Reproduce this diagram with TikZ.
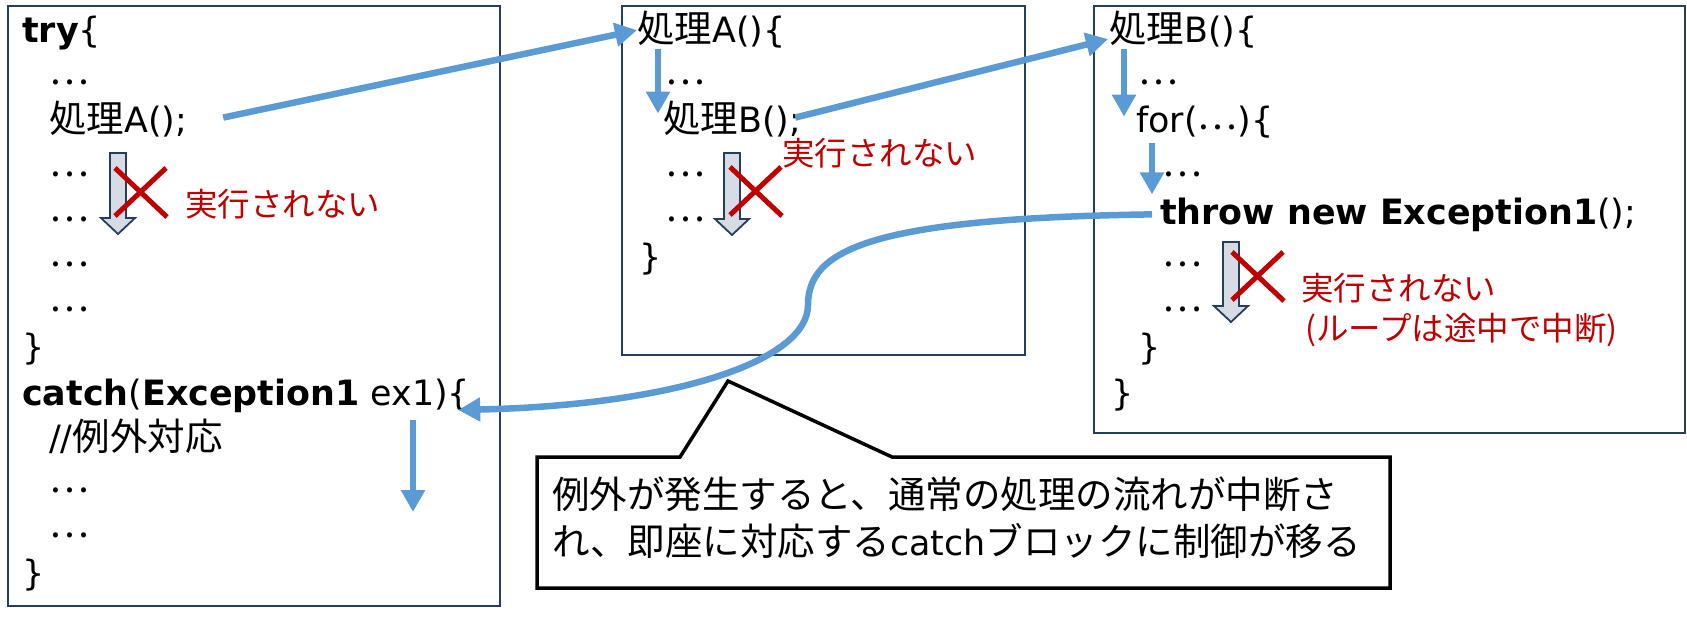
\documentclass[tikz,border=0pt]{standalone}
\usepackage{fontspec}
\setmainfont{DejaVu Sans}[Scale=0.93]
\newfontfamily\jpfont{Noto Sans CJK JP}
\newcommand\jp[1]{{\jpfont #1}}
\newcommand\ellip{\jp{\raisebox{3pt}{…}}}
\usetikzlibrary{arrows.meta, calc}

\definecolor{boxLine}{RGB}{38,62,90}
\definecolor{flowBlue}{RGB}{91,155,213}
\definecolor{skipFill}{RGB}{214,220,229}
\definecolor{noRed}{RGB}{192,0,0}

\tikzset{
  code/.style={anchor=base west, inner sep=0pt, font=\fontsize{37.5}{45}\selectfont},
  note/.style={anchor=base west, inner sep=0pt, text=noRed, font=\fontsize{32.5}{40}\selectfont\jpfont},
  blk/.style={draw=boxLine, line width=2pt},
  flow/.style={draw=flowBlue, line width=6.5pt, -{Triangle[length=22pt,width=23pt]}},
  skip/.style={draw=boxLine, fill=skipFill, line width=1.8pt, line join=miter},
  cross/.style={draw=noRed, line width=5pt},
  callout/.style={draw=black, fill=white, line width=3.5pt, line join=miter}
}

\begin{document}
\begin{tikzpicture}[x=1pt, y=-1pt]
\useasboundingbox (0,0) rectangle (1687,623);

 %%Paramaters
%% block arrow (skipped code) and cross, x = centre
\def\skipArrow#1#2#3{\draw[skip] ({#1-8},#2) -- ({#1+8},#2) -- ({#1+8},{#3-16}) -- ({#1+17},{#3-16}) -- (#1,#3) -- ({#1-17},{#3-16}) -- ({#1-8},{#3-16}) -- cycle;}
\def\noRun#1#2{\draw[cross] ({#1-26},{#2-25}) -- ({#1+26},{#2+24}) ({#1-26},{#2+23}) -- ({#1+25},{#2-25});}

%% frames
\draw[blk] (8,6) rectangle (500,606);
\draw[blk] (622,6) rectangle (1025,355);
\draw[blk] (1094,6) rectangle (1685,433);

 %% ***Block 1 : try / catch***
\node[code] (tryL) at (22,43) {\textbf{try}\{};
\node[code] (dotA1) at (49,88) {\ellip};
\node[code] (callA) at (49,133) {\jp{処理}A();};
\node[code] (dotA2) at (49,179) {\ellip};
\node[code] (dotA3) at (49,224) {\ellip};
\node[code] (dotA4) at (49,269) {\ellip};
\node[code] (dotA5) at (49,314) {\ellip};
\node[code] (closeTry) at (22,359) {\}};
\node[code] (catchL) at (22,405) {\textbf{catch}(\textbf{Exception1} ex1)\{};
\node[code] (cmt) at (49,450) {//\jp{例外対応}};
\node[code] (dotC1) at (49,495) {\ellip};
\node[code] (dotC2) at (49,540) {\ellip};
\node[code] (closeCatch) at (22,585) {\}};

 %% ***Block 2 : 処理A***
\node[code] (procA) at (637,43) {\jp{処理}A()\{};
\node[code] (dotB1) at (665,88) {\ellip};
\node[code] (callB) at (663,133) {\jp{処理}B();};
\node[code] (dotB2) at (665,179) {\ellip};
\node[code] (dotB3) at (665,224) {\ellip};
\node[code] (closeA) at (639,269) {\}};

 %% ***Block 3 : 処理B***
\node[code] (procB) at (1109,43) {\jp{処理}B()\{};
\node[code] (dotD1) at (1138,88) {\ellip};
\node[code] (forL) at (1136,133) {for(\ellip)\{};
\node[code] (dotD2) at (1162,179) {\ellip};
\node[code] (throwL) at (1160,224) {\textbf{throw new Exception1}();};
\node[code] (dotD3) at (1162,269) {\ellip};
\node[code] (dotD4) at (1162,314) {\ellip};
\node[code] (closeFor) at (1138,359) {\}};
\node[code] (closeB) at (1111,405) {\}};

%% skipped lines
\skipArrow{118}{153}{234}
\skipArrow{732}{153}{235}
\skipArrow{1231}{242}{322}
\noRun{141}{193}
\noRun{756}{192}
\noRun{1258}{277}
\node[note] (noteA) at (185,216) {実行されない};
\node[note] (noteB) at (782,166) {実行されない};
\node[note] (noteC) at (1301,300) {実行されない};
\node[note] (noteD) at (1305,340) {(ループは途中で中断)};

%% normal flow
\draw[flow] ($(callA.east)+(36,-2)$) -- (procA.west);
\draw[flow] ($(procA.south west)+(21,0)$) -- ($(callB.west)+(-5,-6)$);
\draw[flow] ($(callB.east)+(-6,-2)$) -- ($(procB.west)+(-1,9)$);
\draw[flow] ($(procB.south west)+(15,0)$) -- ($(forL.west)+(-12,-6)$);
\draw[flow] ($(forL.south west)+(16,4)$) -- ($(throwL.west)+(-8,-20)$);

%% exception -> catch
\coordinate (bend) at (808,305);
\draw[flow] ($(throwL.west)+(-8,0)$) .. controls +(-282,4) and +(0,-55) .. (bend)
            .. controls +(0,55) and +(220,-5) .. ($(catchL.base east)+(-12,5)$);
\draw[flow] ($(catchL.base west)+(391,15)$) -- ($(catchL.base west)+(391,107)$);

%% callout
\draw[callout] (537,457) -- (680,457) -- (728,381) -- (892,457) -- (1390,457) -- (1390,588) -- (537,588) -- cycle;
\node[code, font=\fontsize{37.5}{45}\selectfont\jpfont] (msg1) at (552,508) {例外が発生すると、通常の処理の流れが中断さ};
\node[code] (msg2) at (552,555) {\jp{れ、即座に対応する}catch\jp{ブロックに制御が移る}};
 \end{tikzpicture}
\end{document}
